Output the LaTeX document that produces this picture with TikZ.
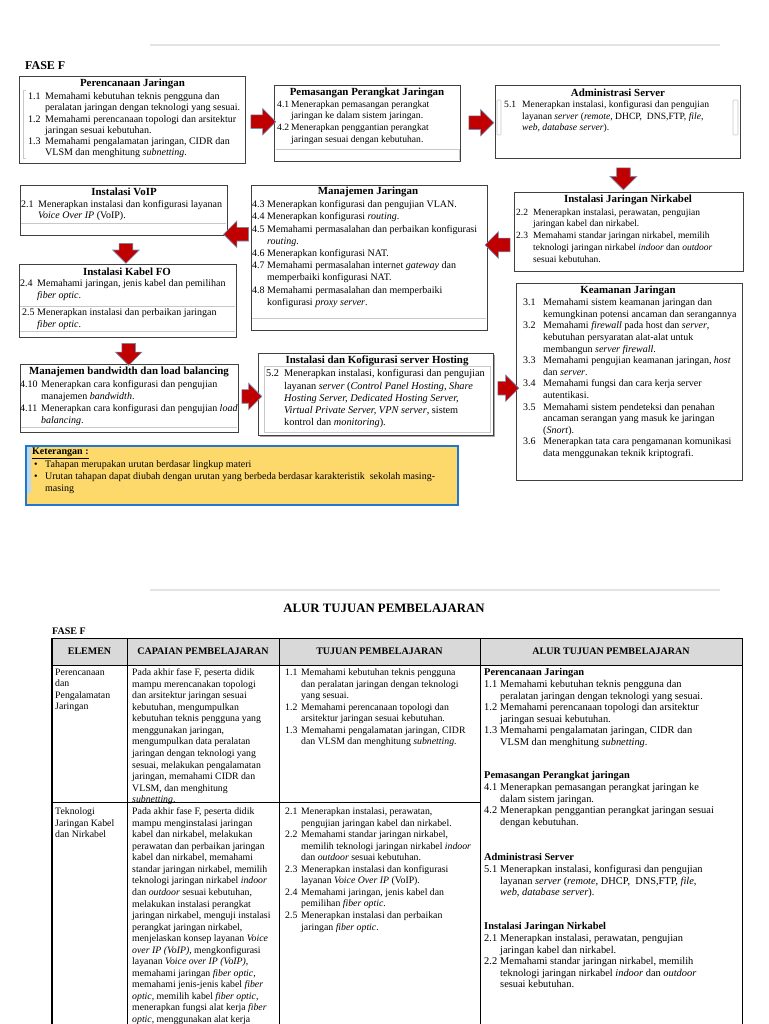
\documentclass[tikz,border=0pt]{standalone}
\usepackage{fontspec}
\setmainfont{Liberation Serif}
\usetikzlibrary{shapes.arrows,calc}
\definecolor{arrred}{HTML}{C00000}
\definecolor{arredge}{HTML}{7090B8}
\definecolor{boxline}{HTML}{404040}
\definecolor{innerln}{HTML}{C8C8C8}
\definecolor{ketfill}{HTML}{FDD96B}
\definecolor{ketline}{HTML}{1E78D2}
\definecolor{ketbar}{HTML}{BDD7EE}
\definecolor{hdrfill}{HTML}{D9D9D9}
\definecolor{sepline}{HTML}{E3E3E3}
\newlength\numw
\newcommand\NI[2]{\makebox[\numw][l]{#1}#2}
\newcommand\NC[1]{\hspace*{\numw}#1}
\def\bxfs{10}
\tikzset{
  box/.style={draw=boxline, line width=0.9pt, anchor=north west, inner sep=0pt, fill=white},
  ttl/.style={font=\fontsize{10.9}{13}\selectfont\bfseries, inner sep=0pt, anchor=center},
  bxfs/.code={\def\bxfs{#1}},
  txt/.style={anchor=north west, inner sep=0pt, align=left, font=\fontsize{\bxfs}{#1}\selectfont},
  txt/.default=11.3,
  tbl/.style={anchor=north west, inner sep=0pt, align=left, font=\fontsize{9.8}{11.55}\selectfont},
  tblb/.style={anchor=north west, inner sep=0pt, align=left, font=\fontsize{10.4}{11.55}\selectfont},
  numw/.code={\setlength\numw{#1}},
  hdr/.style={font=\fontsize{10}{12}\selectfont\bfseries, inner sep=0pt, anchor=center},
  blockarrow/.style={single arrow, draw=arredge, fill=arrred, line width=0.6pt,
    inner xsep=0pt, inner ysep=6.5pt, single arrow head extend=6.5pt,
    minimum height=#1, anchor=center},
  blockarrow/.default=25pt,
  innerline/.style={draw=innerln, line width=0.6pt},
}
\begin{document}
\begin{tikzpicture}[x=1pt,y=-1pt]
\path[use as bounding box, fill=white] (0,0) rectangle (768,1024);

% separators
\draw[sepline, line width=1.5pt] (150,45) -- (720,45);
\draw[sepline, line width=1.5pt] (150,590) -- (720,590);

\node[anchor=west, inner sep=0pt, font=\fontsize{12}{14}\selectfont\bfseries] (fase1) at (25,66) {FASE F};

% ---------- boxes ----------
\node[box, minimum width=226pt, minimum height=87pt] (b1) at (19,76) {};
\node[box, minimum width=186pt, minimum height=76pt] (b2) at (274,85) {};
\node[box, minimum width=245pt, minimum height=73pt] (b3) at (495,85) {};
\node[box, minimum width=229pt, minimum height=79pt] (b4) at (514,192) {};
\node[box, minimum width=236pt, minimum height=145pt] (b5) at (251,185) {};
\node[box, minimum width=207pt, minimum height=50pt] (b6) at (20,185) {};
\node[box, minimum width=217pt, minimum height=73pt] (b7) at (19,264) {};
\node[box, minimum width=218pt, minimum height=68pt] (b8) at (20,364) {};
\fill[gray!70] (260,355) rectangle (495,437);
\node[box, minimum width=235pt, minimum height=82pt] (b9) at (258,353) {};
\node[box, minimum width=226pt, minimum height=197pt] (b10) at (516,283) {};

% inner artefact lines
\draw[innerline] (26,90) -- (23,90) -- (23,158) -- (26,158);
\draw[innerline] (276,149) -- (459,149) -- (459,160);
\draw[innerline, rounded corners=1pt] (497,100) rectangle (501,135);
\draw[innerline, rounded corners=1pt] (733,100) rectangle (738,135);
\draw[innerline] (21,223) -- (226,223);
\draw[innerline] (20,306) -- (235,306);
\draw[innerline] (20,331) -- (235,331);
\draw[innerline] (252,318) -- (486,318);
\draw[innerline] (21,427) -- (237,427);
\draw[innerline] (264,366) rectangle (490,432);

% titles
\node[ttl] (t1) at (b1.north |- 0,84) {Perencanaan Jaringan};
\node[ttl] (t2) at (367,93) {Pemasangan Perangkat Jaringan};
\node[ttl] (t3) at (618,93) {Administrasi Server};
\node[ttl] (t4) at (628,200) {Instalasi Jaringan Nirkabel};
\node[ttl] (t5) at (368,192) {Manajemen Jaringan};
\node[ttl] (t6) at (124,192) {Instalasi VoIP};
\node[ttl] (t7) at (127,272) {Instalasi Kabel FO};
\node[ttl] (t8) at (129,372) {Manajemen bandwidth dan load balancing};
\node[ttl] (t9) at (377,361) {Instalasi dan Kofigurasi server Hosting};
\node[ttl] (t10) at (628,291) {Keamanan Jaringan};

% contents
\node[txt=11.2, numw=17pt] (c1) at (28,92.5) {%
\NI{1.1}{Memahami kebutuhan teknis pengguna dan}\\
\NC{peralatan jaringan dengan teknologi yang sesuai.}\\
\NI{1.2}{Memahami perencanaan topologi dan arsitektur}\\
\NC{jaringan sesuai kebutuhan.}\\
\NI{1.3}{Memahami pengalamatan jaringan, CIDR dan}\\
\NC{VLSM dan menghitung \textit{subnetting}.}};

\node[txt=11.6, bxfs=9.6, numw=14pt] (c2) at (277,100.5) {%
\NI{4.1}{Menerapkan pemasangan perangkat}\\
\NC{jaringan ke dalam sistem jaringan.}\\
\NI{4.2}{Menerapkan penggantian perangkat}\\
\NC{jaringan sesuai dengan kebutuhan.}};

\node[txt=11.6, bxfs=9.6, numw=18pt] (c3) at (504,100.5) {%
\NI{5.1}{Menerapkan instalasi, konfigurasi dan pengujian}\\
\NC{layanan \textit{server} (\textit{remote}, DHCP,\ \ DNS,FTP, \textit{file},}\\
\NC{\textit{web}, \textit{database server}).}};

\node[txt=11.7, bxfs=9.5, numw=17pt] (c4) at (516,208.5) {%
\NI{2.2}{Menerapkan instalasi, perawatan, pengujian}\\
\NC{jaringan kabel dan nirkabel.}\\
\NI{2.3}{Memahami standar jaringan nirkabel, memilih}\\
\NC{teknologi jaringan nirkabel \textit{indoor} dan \textit{outdoor}}\\
\NC{sesuai kebutuhan.}};

\node[txt=12.2, numw=15pt] (c5) at (252,200.5) {%
\NI{4.3}{Menerapkan konfigurasi dan pengujian VLAN.}\\
\NI{4.4}{Menerapkan konfigurasi \textit{routing}.}\\
\NI{4.5}{Memahami permasalahan dan perbaikan konfigurasi}\\
\NC{\textit{routing}.}\\
\NI{4.6}{Menerapkan konfigurasi NAT.}\\
\NI{4.7}{Memahami permasalahan internet \textit{gateway} dan}\\
\NC{memperbaiki konfigurasi NAT.}\\
\NI{4.8}{Memahami permasalahan dan memperbaiki}\\
\NC{konfigurasi \textit{proxy server}.}};

\node[txt=11.2, numw=17pt] (c6) at (21,200.5) {%
\NI{2.1}{Menerapkan instalasi dan konfigurasi layanan}\\
\NC{\textit{Voice Over IP} (VoIP).}};

\node[txt=11.8, numw=17pt] (c7a) at (20,279.5) {%
\NI{2.4}{Memahami jaringan, jenis kabel dan pemilihan}\\
\NC{\textit{fiber optic}.}};
\node[txt=11.8, numw=15pt] (c7b) at (22,308.5) {%
\NI{2.5}{Menerapkan instalasi dan perbaikan jaringan}\\
\NC{\textit{fiber optic}.}};

\node[txt=12, numw=21pt] (c8) at (20,380.5) {%
\NI{4.10}{Menerapkan cara konfigurasi dan pengujian}\\
\NC{manajemen \textit{bandwidth}.}\\
\NI{4.11}{Menerapkan cara konfigurasi dan pengujian \textit{load}}\\
\NC{\textit{balancing}.}};

\node[txt=12.2, bxfs=10.3, numw=18pt] (c9) at (266,369.5) {%
\NI{5.2}{Menerapkan instalasi, konfigurasi dan pengujian}\\
\NC{layanan \textit{server} (\textit{Control Panel Hosting, Share}}\\
\NC{\textit{Hosting Server, Dedicated Hosting Server,}}\\
\NC{\textit{Virtual Private Server, VPN server}, sistem}\\
\NC{kontrol dan \textit{monitoring}).}};

\node[txt=11.6, numw=20pt] (c10) at (523,298.5) {%
\NI{3.1}{Memahami sistem keamanan jaringan dan}\\
\NC{kemungkinan potensi ancaman dan serangannya}\\
\NI{3.2}{Memahami \textit{firewall} pada host dan \textit{server},}\\
\NC{kebutuhan persyaratan alat-alat untuk}\\
\NC{membangun \textit{server firewall}.}\\
\NI{3.3}{Memahami pengujian keamanan jaringan, \textit{host}}\\
\NC{dan \textit{server}.}\\
\NI{3.4}{Memahami fungsi dan cara kerja server}\\
\NC{autentikasi.}\\
\NI{3.5}{Memahami sistem pendeteksi dan penahan}\\
\NC{ancaman serangan yang masuk ke jaringan}\\
\NC{(\textit{Snort}).}\\
\NI{3.6}{Menerapkan tata cara pengamanan komunikasi}\\
\NC{data menggunakan teknik kriptografi.}};

% ---------- block arrows ----------
\node[blockarrow] (a1) at ($(b1.east)!0.5!(b2.west)$ |- 0,122) {};
\node[blockarrow] (a2) at ($(b2.east)!0.5!(b3.west)$ |- 0,122) {};
\node[blockarrow=22pt, rotate=-90] (a3) at ($(b3.south)!0.5!(b4.north)$ -| b4.north) {};
\node[blockarrow, rotate=180] (a4) at ($(b5.east)!0.5!(b4.west)$ |- 0,225) {};
\node[blockarrow, rotate=180] (a5) at ($(b6.east)!0.5!(b5.west)$ |- 0,209) {};
\node[blockarrow=20pt, rotate=-90] (a6) at ($(b6.south)!0.5!(b7.north)$ -| 127,0) {};
\node[blockarrow=22pt, rotate=-90] (a7) at ($(b7.south)!0.5!(b8.north)$ -| 127,0) {};
\node[blockarrow=20pt] (a8) at ($(b8.east)!0.5!(b9.west)$ |- 0,396) {};
\node[blockarrow=21pt] (a9) at ($(b9.east)!0.5!(b10.west)$ |- 0,395) {};

% ---------- Keterangan ----------
\node[draw=ketline, fill=ketfill, line width=1.6pt, anchor=north west, inner sep=0pt,
      minimum width=432pt, minimum height=59pt] (ket) at (25,445) {};
\fill[ketbar] (26.5,446.5) rectangle (31,493);
\node[anchor=north west, inner sep=0pt, font=\fontsize{10}{11}\selectfont\bfseries] (kt) at (32,447.5) {\underline{Keterangan :}};
\node[anchor=north west, inner sep=0pt, align=left, font=\fontsize{10}{12.2}\selectfont] (kb) at (34,460) {%
\makebox[11pt][l]{\textbullet}Tahapan merupakan urutan berdasar lingkup materi\\
\makebox[11pt][l]{\textbullet}Urutan tahapan dapat diubah dengan urutan yang berbeda berdasar karakteristik\ \ sekolah masing-\\
\hspace*{11pt}masing};

% ---------- second part ----------
\node[inner sep=0pt, font=\fontsize{12.8}{15}\selectfont\bfseries] (alur) at (384,608) {ALUR TUJUAN PEMBELAJARAN};
\node[anchor=west, inner sep=0pt, font=\fontsize{10}{12}\selectfont\bfseries] (fase2) at (52,631) {FASE F};

\fill[hdrfill] (52,638) rectangle (742,665);
\draw[line width=0.8pt] (52,638) -- (742,638);
\draw[line width=0.8pt] (52,665) -- (742,665);
\draw[line width=0.8pt] (52,802) -- (480,802);
\draw[line width=1.3pt] (52,638) -- (52,1030);
\draw[line width=0.8pt] (127,638) -- (127,1030);
\draw[line width=0.8pt] (279,638) -- (279,1030);
\draw[line width=0.8pt] (480,638) -- (480,1030);
\draw[line width=0.8pt] (742,638) -- (742,1030);

\node[hdr] (h1) at (89.5,651.5) {ELEMEN};
\node[hdr] (h2) at (203,651.5) {CAPAIAN PEMBELAJARAN};
\node[hdr] (h3) at (379.5,651.5) {TUJUAN PEMBELAJARAN};
\node[hdr] (h4) at (611,651.5) {ALUR TUJUAN PEMBELAJARAN};

\node[tbl] (r1c1) at (55,668.5) {Perencanaan\\dan\\Pengalamatan\\Jaringan};
\node[tbl] (r1c2) at (132,668.5) {%
Pada akhir fase F, peserta didik\\
mampu merencanakan topologi\\
dan arsitektur jaringan sesuai\\
kebutuhan, mengumpulkan\\
kebutuhan teknis pengguna yang\\
menggunakan jaringan,\\
mengumpulkan data peralatan\\
jaringan dengan teknologi yang\\
sesuai, melakukan pengalamatan\\
jaringan, memahami CIDR dan\\
VLSM, dan menghitung\\
\textit{subnetting}.};
\node[tbl, numw=16pt] (r1c3) at (285,668.5) {%
\NI{1.1}{Memahami kebutuhan teknis pengguna}\\
\NC{dan peralatan jaringan dengan teknologi}\\
\NC{yang sesuai.}\\
\NI{1.2}{Memahami perencanaan topologi dan}\\
\NC{arsitektur jaringan sesuai kebutuhan.}\\
\NI{1.3}{Memahami pengalamatan jaringan, CIDR}\\
\NC{dan VLSM dan menghitung \textit{subnetting}.}};

\node[tbl] (r2c1) at (55,807.5) {Teknologi\\Jaringan Kabel\\dan Nirkabel};
\node[tbl] (r2c2) at (132,807.5) {%
Pada akhir fase F, peserta didik\\
mampu menginstalasi jaringan\\
kabel dan nirkabel, melakukan\\
perawatan dan perbaikan jaringan\\
kabel dan nirkabel, memahami\\
standar jaringan nirkabel, memilih\\
teknologi jaringan nirkabel \textit{indoor}\\
dan \textit{outdoor} sesuai kebutuhan,\\
melakukan instalasi perangkat\\
jaringan nirkabel, menguji instalasi\\
perangkat jaringan nirkabel,\\
menjelaskan konsep layanan \textit{Voice}\\
\textit{over IP (VoIP)}, mengkonfigurasi\\
layanan \textit{Voice over IP (VoIP)},\\
memahami jaringan \textit{fiber optic},\\
memahami jenis-jenis kabel \textit{fiber}\\
\textit{optic}, memilih kabel \textit{fiber optic},\\
menerapkan fungsi alat kerja \textit{fiber}\\
\textit{optic}, menggunakan alat kerja};
\node[tbl, numw=16pt] (r2c3) at (285,807.5) {%
\NI{2.1}{Menerapkan instalasi, perawatan,}\\
\NC{pengujian jaringan kabel dan nirkabel.}\\
\NI{2.2}{Memahami standar jaringan nirkabel,}\\
\NC{memilih teknologi jaringan nirkabel \textit{indoor}}\\
\NC{dan \textit{outdoor} sesuai kebutuhan.}\\
\NI{2.3}{Menerapkan instalasi dan konfigurasi}\\
\NC{layanan \textit{Voice Over IP} (VoIP).}\\
\NI{2.4}{Memahami jaringan, jenis kabel dan}\\
\NC{pemilihan \textit{fiber optic}.}\\
\NI{2.5}{Menerapkan instalasi dan perbaikan}\\
\NC{jaringan \textit{fiber optic}.}};

\node[tblb, numw=16pt] (r1c4a) at (484,668.5) {%
\textbf{Perencanaan Jaringan}\\
\NI{1.1}{Memahami kebutuhan teknis pengguna dan}\\
\NC{peralatan jaringan dengan teknologi yang sesuai.}\\
\NI{1.2}{Memahami perencanaan topologi dan arsitektur}\\
\NC{jaringan sesuai kebutuhan.}\\
\NI{1.3}{Memahami pengalamatan jaringan, CIDR dan}\\
\NC{VLSM dan menghitung \textit{subnetting}.}};
\node[tblb, numw=16pt] (r1c4b) at (484,771.5) {%
\textbf{Pemasangan Perangkat jaringan}\\
\NI{4.1}{Menerapkan pemasangan perangkat jaringan ke}\\
\NC{dalam sistem jaringan.}\\
\NI{4.2}{Menerapkan penggantian perangkat jaringan sesuai}\\
\NC{dengan kebutuhan.}};
\node[tblb, numw=16pt] (r1c4c) at (484,853.5) {%
\textbf{Administrasi Server}\\
\NI{5.1}{Menerapkan instalasi, konfigurasi dan pengujian}\\
\NC{layanan \textit{server} (\textit{remote}, DHCP,\ \ DNS,FTP, \textit{file},}\\
\NC{\textit{web}, \textit{database server}).}};
\node[tblb, numw=16pt] (r1c4d) at (484,922.5) {%
\textbf{Instalasi Jaringan Nirkabel}\\
\NI{2.1}{Menerapkan instalasi, perawatan, pengujian}\\
\NC{jaringan kabel dan nirkabel.}\\
\NI{2.2}{Memahami standar jaringan nirkabel, memilih}\\
\NC{teknologi jaringan nirkabel \textit{indoor} dan \textit{outdoor}}\\
\NC{sesuai kebutuhan.}};
\end{tikzpicture}
\end{document}
